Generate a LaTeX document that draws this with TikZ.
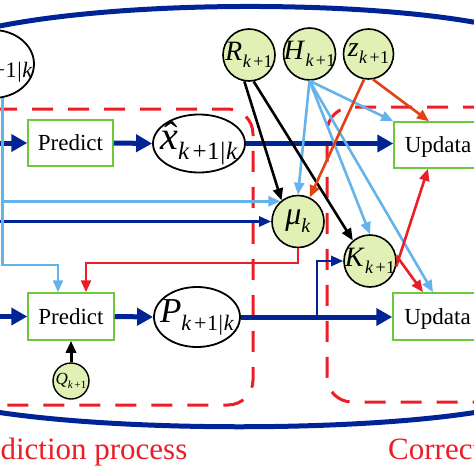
\documentclass[tikz,border=0pt]{standalone}
\usepackage{fontspec}
\setmainfont{Liberation Serif}
\usetikzlibrary{arrows.meta,shapes.geometric}
\definecolor{dblue}{RGB}{0,35,150}
\definecolor{lblue}{RGB}{100,180,235}
\definecolor{redd}{RGB}{235,30,40}
\definecolor{orred}{RGB}{225,65,20}
\definecolor{boxgreen}{RGB}{110,200,60}
\definecolor{circfill}{RGB}{225,240,180}
\newcommand\myfs[1]{\fontsize{#1}{#1}\selectfont}
\newcommand\kp{\textit{k}\hspace{0.12em}+\hspace{0.02em}1}
\newcommand\kpk{\textit{k}\hspace{0.12em}+\hspace{0.02em}1\hspace{0.03em}|\hspace{0.03em}\textit{k}}
\newcommand\cl[2]{{\myfs{28}\textit{#1}}\raisebox{-7pt}{\myfs{18}\hspace{0.5pt}#2}}
\newcommand\xhat{\makebox[0pt][l]{\hspace{0.1em}ˆ}\textit{x}}
\begin{document}
\begin{tikzpicture}[x=1pt,y=-1pt,
  box/.style={draw=boxgreen, line width=1.5pt, fill=white, minimum width=85pt, minimum height=46pt, inner sep=0pt, font=\myfs{23}, text height=15pt, text depth=0pt},
  circ/.style={circle, draw=black, line width=1.6pt, fill=circfill, minimum size=52pt, inner sep=0pt},
  ell/.style={ellipse, draw=black, line width=1.8pt, fill=white, inner sep=0pt},
  elltext/.style={inner sep=0pt},
  thickarr/.style={draw=dblue, line width=5pt, -{Triangle[length=16pt,width=17pt]}},
  thinarr/.style={line width=2.6pt, -{Triangle[length=12pt,width=10pt]}},
  rdash/.style={draw=redd, line width=3pt, dash pattern=on 21pt off 15pt, rounded corners=25pt},
  bigarc/.style={draw=dblue, line width=5pt},
  proc/.style={text=redd, font=\myfs{31}, anchor=base west, inner sep=0pt}]
\useasboundingbox (0,0) rectangle (474,474);
\clip (0,0) rectangle (474,474);

% dashed regions
\draw[rdash] (-40,109) -- (253,109) -- (253,405) -- (-40,405);
\draw[rdash] (520,107) -- (327,107) -- (327,402) -- (520,402);

% nodes
\node[box] (P1) at (70.5,143) {Predict};
\node[box, minimum width=86pt, minimum height=47pt] (P2) at (71,316.5) {Predict};
\node[box, minimum width=88pt] (U1) at (438,145) {Updata};
\node[box, minimum width=89pt, minimum height=47pt] (U2) at (437.5,316.5) {Updata};

\node[ell, minimum width=82pt, minimum height=68pt] (phi) at (-7,64) {};
\node[elltext] (phit) at (phi.center)
  {\makebox[0pt]{{\myfs{35}\textit{Φ}}\raisebox{-8pt}{\myfs{22}\kpk}}};
\node[ell, minimum width=92pt, minimum height=58pt] (xh) at (199,143.5) {};
\node[elltext] (xht) at (xh.center)
  {\makebox[0pt]{{\myfs{40}\xhat}\raisebox{-10pt}{\myfs{25}\kpk}}};
\node[ell, minimum width=86pt, minimum height=60pt] (Pe) at (197,317) {};
\node[elltext] (Pet) at (Pe.center)
  {\makebox[0pt]{{\myfs{35}\textit{P}}\raisebox{-8pt}{\myfs{22}\kpk}}};

\node[circ] (R) at (249,55) {\makebox[0pt]{\cl{R}{\kp}}};
\node[circ] (H) at (309.5,54) {\makebox[0pt]{\cl{H}{\kp}}};
\node[circ, minimum size=50pt] (z) at (368.5,54) {\makebox[0pt]{\cl{z}{\kp}}};
\node[circ] (mu) at (298,221.5) {\makebox[0pt]{{\myfs{32}\textit{μ}}\raisebox{-8pt}{\myfs{20}\textit{k}}}};
\node[circ] (K) at (370,261) {\makebox[0pt]{\cl{K}{\kp}}};
\node[circ, minimum size=36pt, line width=1.4pt] (Q) at (71,381)
  {\makebox[0pt]{{\myfs{17}\textit{Q}}\raisebox{-4pt}{\myfs{11}\kp}}};

% big arcs (over the nodes they touch)
\draw[bigarc] (-10,28) .. controls (120,0) and (360,0) .. (484,24);
\draw[bigarc] (-10,411) .. controls (120,432) and (360,432) .. (484,411);

% helper coordinates
\coordinate (inP1) at (-10,143);
\coordinate (inP2) at (-10,316.5);
\coordinate (inM) at (-10,221.5);
\coordinate (br) at (317,317);
\coordinate (lbA) at (58,265);
\coordinate (rA) at (86,263);
\coordinate (x433) at (433,0);
\coordinate (x429) at (429,0);
\coordinate (x428) at (428,0);
\coordinate (x423) at (423,0);

% thick blue flow
\draw[thickarr] (inP1) -- (P1.west);
\draw[thickarr] (P1.east) -- (xh.west);
\draw[thickarr] (xh.east) -- (xh.east -| U1.west);
\draw[thickarr] (inP2) -- (P2.west);
\draw[thickarr] (P2.east) -- (Pe.west);
\draw[thickarr] (Pe.east) -- (Pe.east -| U2.west);

% thin dark blue
\draw[thinarr, dblue] (br) |- (K.west);
\draw[thinarr, dblue] (inM) -- (mu.west);

% light blue
\draw[thinarr, lblue] (phi.-74) |- (lbA) -- (lbA |- P2.north);
\draw[thinarr, lblue] (phi.-74 |- mu.131) -- (mu.131);
\draw[thinarr, lblue] (H.south) -- (U1.north west);
\draw[thinarr, lblue] (H.south) -- (mu.north);
\draw[thinarr, lblue] (H.south) -- (K.north);
\draw[thinarr, lblue] (H.south) -- (U2.north -| x433);

% black
\draw[thinarr, black] (R.-100) -- (mu.128);
\draw[thinarr, black] (R.-80) -- (K.130);
\draw[thinarr, black, line width=3pt] (Q.north) -- (P2.south);

% orange-red
\draw[thinarr, orred] (z.-100) -- (mu.64);
\draw[thinarr, orred] (z.-80) -- (U1.north -| x429);

% red
\draw[thinarr, redd] (mu.south) |- (rA) -- (rA |- P2.north);
\draw[thinarr, redd] (K.-12) -- (U1.south -| x428);
\draw[thinarr, redd] (K.12) -- (U2.north -| x423);

% process labels
\node[proc] (lt) at (-41,459) {Prediction process};
\node[proc] (rt) at (388,459) {Correction process};
\end{tikzpicture}
\end{document}
